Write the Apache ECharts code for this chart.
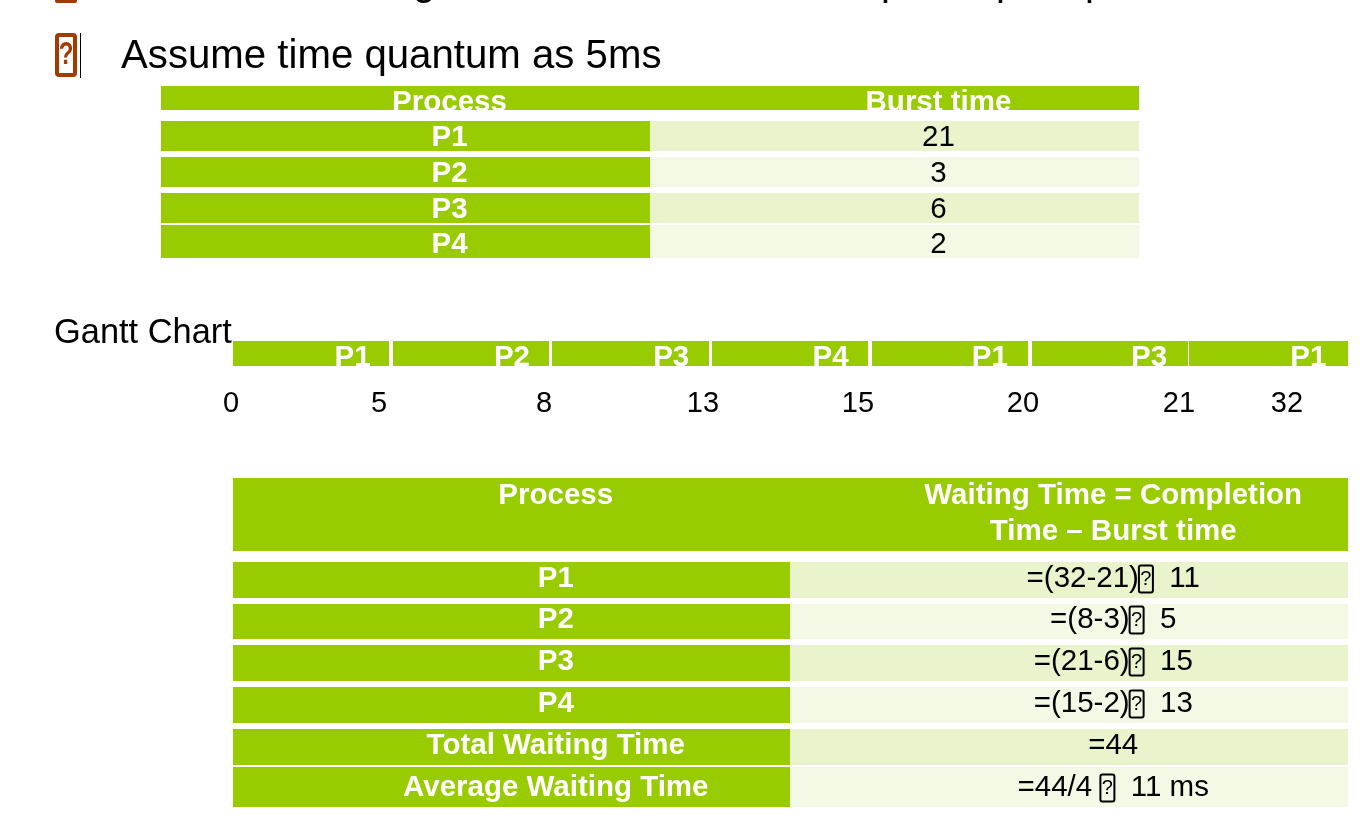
<!DOCTYPE html>
<html>
<head>
<meta charset="utf-8">
<title>Round Robin</title>
<style>
  html, body { margin: 0; padding: 0; background: #fff; }
  #main { width: 1371px; height: 819px; }
</style>
<script src="https://cdn.jsdelivr.net/npm/echarts@6/dist/echarts.min.js"></script>
</head>
<body>
<div id="main"></div>
<script>
// data
var headingText = 'Assume time quantum as 5ms';
var ganttTitle = 'Gantt Chart';

var burstHeader = ['Process', 'Burst time'];
var burstProcesses = ['P1', 'P2', 'P3', 'P4'];
var burstTimes = ['21', '3', '6', '2'];

var ganttProcesses = ['P1', 'P2', 'P3', 'P4', 'P1', 'P3', 'P1'];
var ganttTicks = ['0', '5', '8', '13', '15', '20', '21', '32'];

// "Process" sits on the first of the two header lines
var waitHeader = ['Process\n ', 'Waiting Time = Completion\nTime \u2013 Burst time'];
var waitProcesses = ['P1', 'P2', 'P3', 'P4', 'Total Waiting Time', 'Average Waiting Time'];
var waitValues = ['=(32-21)\u2370  11', '=(8-3)\u2370  5', '=(21-6)\u2370  15', '=(15-2)\u2370  13', '=44', '=44/4 \u2370  11 ms'];

// layout, in page pixels
var GREEN = '#99cc00', LIGHT1 = '#e9f3cc', LIGHT2 = '#f4f9e6';
var FONT = '"Liberation Sans", Arial, sans-serif';
var burstBands = [[86, 110], [121, 151], [157, 187], [193, 223], [225, 258]];
var burstTextY = [103, 138, 174, 210, 245];
var waitBands = [[478, 551], [562, 598], [604, 639], [645, 681], [687, 723], [729, 765], [767, 807]];
var waitTextY = [514, 579, 620, 662, 704, 746, 788];
var ganttInsetL = [1, 0, 1, 2, 3, 0];
var ganttInsetR = [3, 3, 2, 2, 1, 1];
var ganttTickX = [231, 379, 544, 703, 858, 1023, 1179, 1287];

var grids = [], xAxes = [], yAxes = [], series = [];

function addGrid(left, right, top, bottom, cats) {
    var idx = grids.length;
    grids.push({ left: left, top: top, width: right - left, height: bottom - top });
    xAxes.push({ gridIndex: idx, type: 'category', data: cats, show: false });
    yAxes.push({ gridIndex: idx, type: 'value', min: 0, max: 1, show: false });
    return idx;
}

// one table row: two cells side by side, text clipped to the row
function addRow(left, right, band, textY, cells, fills, bold) {
    var idx = addGrid(left, right, band[0], band[1], cells);
    series.push({
        type: 'custom',
        xAxisIndex: idx,
        yAxisIndex: idx,
        clip: true,
        silent: true,
        animation: false,
        data: cells.map(function (c, i) { return [i, 1]; }),
        renderItem: function (params, api) {
            var i = api.value(0);
            var size = api.size([1, 1]);
            var c = api.coord([i, 0]);
            var x0 = Math.floor(c[0] - size[0] / 2);
            var x1 = Math.floor(c[0] + size[0] / 2);
            if (i === cells.length - 1) x1 = right;
            var isBold = bold[i];
            return {
                type: 'group',
                children: [{
                    type: 'rect',
                    shape: { x: x0, y: band[0], width: x1 - x0, height: band[1] - band[0] },
                    style: { fill: fills[i] }
                }, {
                    type: 'text',
                    x: c[0] + 44,
                    y: textY,
                    style: {
                        text: cells[i].replace(/\u2370/g, '{q|?}'),
                        fill: isBold ? '#fff' : '#000',
                        font: (isBold ? 'bold ' : '') + '29.5px ' + FONT,
                        align: 'center',
                        verticalAlign: 'middle',
                        lineHeight: 36,
                        rich: {
                            q: {
                                font: '20px ' + FONT,
                                fill: '#000',
                                width: 10,
                                align: 'center',
                                borderColor: '#000',
                                borderWidth: 2,
                                borderRadius: 2,
                                padding: [4, 2, 3, 2]
                            }
                        }
                    }
                }]
            };
        }
    });
}

function addTable(left, right, bands, textY, header, names, values) {
    addRow(left, right, bands[0], textY[0], header, [GREEN, GREEN], [true, true]);
    names.forEach(function (name, i) {
        addRow(left, right, bands[i + 1], textY[i + 1], [name, values[i]],
            [GREEN, i % 2 ? LIGHT2 : LIGHT1], [true, false]);
    });
}

addTable(161, 1139, burstBands, burstTextY, burstHeader, burstProcesses, burstTimes);
addTable(233, 1348, waitBands, waitTextY, waitHeader, waitProcesses, waitValues);

// gantt strip: equal slots, one per time slice
var ganttGrid = addGrid(233, 1348, 341, 366, ganttProcesses.map(function (p, i) { return i + ':' + p; }));
series.push({
    type: 'custom',
    xAxisIndex: ganttGrid,
    yAxisIndex: ganttGrid,
    clip: true,
    silent: true,
    animation: false,
    data: ganttProcesses.map(function (p, i) { return [i, 1]; }),
    renderItem: function (params, api) {
        var i = api.value(0);
        var size = api.size([1, 1]);
        var c = api.coord([i, 0]);
        var x0 = Math.round(c[0] - size[0] / 2) + (i > 0 ? ganttInsetL[i - 1] : 0);
        var x1 = Math.round(c[0] + size[0] / 2) - (i < ganttInsetR.length ? ganttInsetR[i] : 0);
        return {
            type: 'group',
            children: [{
                type: 'rect',
                shape: { x: x0, y: 341, width: x1 - x0, height: 25 },
                style: { fill: GREEN }
            }, {
                type: 'text',
                x: c[0] + 40,
                y: 358,
                style: {
                    text: ganttProcesses[i],
                    fill: '#fff',
                    font: 'bold 29.5px ' + FONT,
                    align: 'center',
                    verticalAlign: 'middle'
                }
            }]
        };
    }
});

// tick labels sit on a page-wide axis because the slots are not to scale
var tickGrid = grids.length;
grids.push({ left: 0, top: 386, width: 1371, height: 1 });
xAxes.push({
    gridIndex: tickGrid,
    type: 'value',
    min: 0,
    max: 1371,
    axisLine: { show: false },
    axisTick: { show: false },
    splitLine: { show: false },
    axisLabel: {
        customValues: ganttTickX,
        margin: 2,
        color: '#000',
        fontFamily: 'Liberation Sans',
        fontSize: 29,
        hideOverlap: false,
        formatter: function (v) { return ganttTicks[ganttTickX.indexOf(v)]; }
    }
});
yAxes.push({ gridIndex: tickGrid, type: 'value', min: 0, max: 1, show: false });

var chart = echarts.init(document.getElementById('main'), null, { renderer: 'canvas' });
chart.setOption({
    animation: false,
    backgroundColor: '#fff',
    grid: grids,
    xAxis: xAxes,
    yAxis: yAxes,
    series: series,
    graphic: [
        // bits of the line above, cut off by the page edge
        { type: 'rect', shape: { x: 55, y: -10, width: 22, height: 13, r: 2 }, style: { fill: '#a33b00' } },
        { type: 'text', x: 424, y: -36, style: { text: 'g', font: '40px ' + FONT, fill: '#000', align: 'center' } },
        { type: 'text', x: 892, y: -36, style: { text: 'p', font: '40px ' + FONT, fill: '#000', align: 'center' } },
        { type: 'text', x: 1007, y: -36, style: { text: 'p', font: '40px ' + FONT, fill: '#000', align: 'center' } },
        { type: 'text', x: 1096, y: -36, style: { text: 'p', font: '40px ' + FONT, fill: '#000', align: 'center' } },
        // heading with its bullet
        { type: 'rect', shape: { x: 57, y: 35, width: 18, height: 40, r: 2 }, style: { fill: '#fff', stroke: '#a33b00', lineWidth: 4 } },
        { type: 'text', x: 66, y: 55, scaleX: 0.75, style: { text: '?', font: 'bold 32px ' + FONT, fill: '#a33b00', align: 'center', verticalAlign: 'middle' } },
        { type: 'line', shape: { x1: 80.5, y1: 33, x2: 80.5, y2: 78 }, style: { stroke: '#000', lineWidth: 1 } },
        { type: 'text', x: 121, y: 57, style: { text: headingText, font: '40.2px ' + FONT, fill: '#000', verticalAlign: 'middle' } },
        { type: 'text', x: 54, y: 334, style: { text: ganttTitle, font: '34.4px ' + FONT, fill: '#000', verticalAlign: 'middle' } }
    ]
});
</script>
</body>
</html>
